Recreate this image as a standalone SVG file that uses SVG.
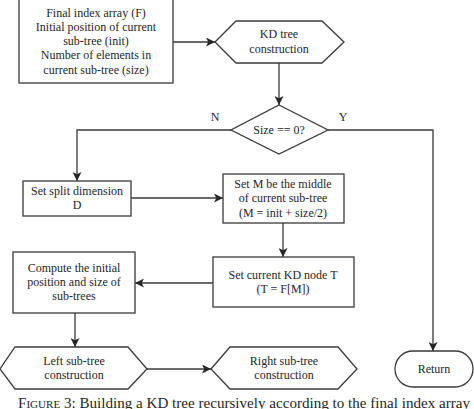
<svg xmlns="http://www.w3.org/2000/svg" width="474" height="409" viewBox="0 0 474 409">
<defs>
<style>
.s{fill:#fff;stroke:#3a3a3a;stroke-width:1.3}
.c{fill:none;stroke:#3a3a3a;stroke-width:1.3}
text{font-family:"Liberation Serif","Times New Roman",serif;font-size:12px;fill:#262626;text-anchor:middle}
.cap{font-size:15px;text-anchor:start}
</style>
<marker id="a" viewBox="0 0 10 10" refX="10" refY="5" markerWidth="9" markerHeight="9" markerUnits="userSpaceOnUse" orient="auto">
<path d="M0,0 L10,5 L0,10 L2.5,5 Z" fill="#262626"/>
</marker>
</defs>
<rect width="474" height="409" fill="#fff"/>
<g id="connectors">
<path class="c" d="M173,42 H215" marker-end="url(#a)"/>
<path class="c" d="M279,63 V105" marker-end="url(#a)"/>
<path class="c" d="M231,130 H77 V181" marker-end="url(#a)"/>
<path class="c" d="M328,130 H433 V351" marker-end="url(#a)"/>
<path class="c" d="M131,198 H223" marker-end="url(#a)"/>
<path class="c" d="M283,223 V257" marker-end="url(#a)"/>
<path class="c" d="M213,283 H135" marker-end="url(#a)"/>
<path class="c" d="M75,313 V347" marker-end="url(#a)"/>
<path class="c" d="M147,369 H211" marker-end="url(#a)"/>
</g>
<g id="input">
<rect class="s" x="19" y="-1" width="154" height="84"/>
<text x="96" y="17">Final index array (F)</text>
<text x="96" y="31">Initial position of current</text>
<text x="96" y="45">sub-tree (init)</text>
<text x="96" y="59">Number of elements in</text>
<text x="96" y="74">current sub-tree (size)</text>
</g>
<g id="kd-tree">
<polygon class="s" points="215,42 236,21 322,21 344,42 322,63 236,63"/>
<text x="279" y="38">KD tree</text>
<text x="279" y="53">construction</text>
</g>
<g id="decision">
<polygon class="s" points="279,105 328,130 279,154 231,130"/>
<text x="279" y="134">Size == 0?</text>
<text x="215" y="121">N</text>
<text x="343" y="121">Y</text>
</g>
<g id="split">
<rect class="s" x="23" y="181" width="108" height="35"/>
<text x="77" y="195">Set split dimension</text>
<text x="77" y="209">D</text>
</g>
<g id="middle">
<rect class="s" x="223" y="174" width="121" height="49"/>
<text x="283" y="188">Set M be the middle</text>
<text x="283" y="202">of current sub-tree</text>
<text x="283" y="217">(M = init + size/2)</text>
</g>
<g id="node">
<rect class="s" x="213" y="257" width="141" height="50"/>
<text x="283" y="279">Set current KD node T</text>
<text x="283" y="293">(T = F[M])</text>
</g>
<g id="compute">
<rect class="s" x="13" y="252" width="122" height="61"/>
<text x="74" y="272">Compute the initial</text>
<text x="74" y="286">position and size of</text>
<text x="74" y="300">sub-trees</text>
</g>
<g id="left">
<polygon class="s" points="0,369 15,347 128,347 147,369 128,389 15,389"/>
<text x="74" y="365">Left sub-tree</text>
<text x="74" y="379">construction</text>
</g>
<g id="right">
<polygon class="s" points="211,369 230,347 338,347 357,369 338,389 230,389"/>
<text x="284" y="365">Right sub-tree</text>
<text x="284" y="379">construction</text>
</g>
<g id="return">
<rect class="s" x="395" y="351" width="78" height="36" rx="18" ry="18"/>
<text x="434" y="373">Return</text>
</g>
<text class="cap" x="18" y="408" textLength="452" lengthAdjust="spacingAndGlyphs"><tspan style="font-variant:small-caps">Figure</tspan> 3: Building a KD tree recursively according to the final index array</text>
</svg>
